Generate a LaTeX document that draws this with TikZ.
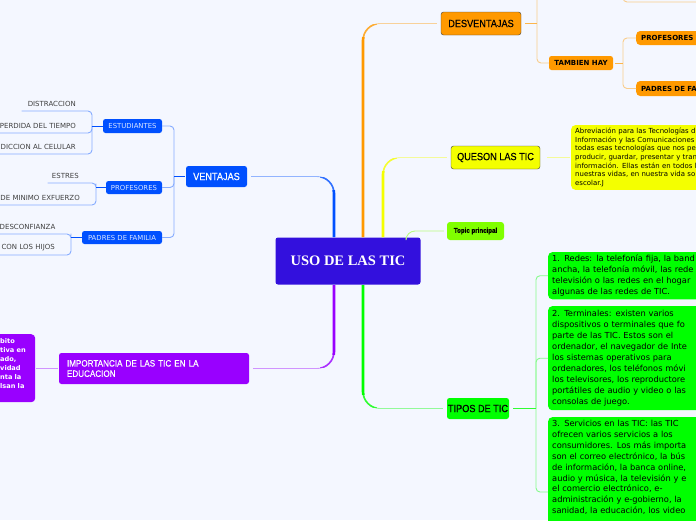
\documentclass[tikz,border=0pt]{standalone}
\usepackage{fontspec}
\setmainfont{DejaVu Sans}
\newfontfamily\headfont[FakeStretch=0.88,FakeBold=0.35]{Liberation Sans}
\newfontfamily\rootfont{Liberation Serif}
\usetikzlibrary{calc}
\definecolor{paper}{HTML}{F4F7FF}
\definecolor{rootblue}{HTML}{3310DD}
\definecolor{vblue}{HTML}{0050FF}
\definecolor{dorange}{HTML}{FF9900}
\definecolor{qyellow}{HTML}{F4FF00}
\definecolor{tgreen}{HTML}{00FF00}
\definecolor{tlime}{HTML}{80FF00}
\definecolor{ipurple}{HTML}{9900FF}
\tikzset{
	mapbox/.style={rounded corners=2.5pt, inner sep=0pt, align=center},
	headbox/.style={mapbox, font=\headfont\fontsize{10.4}{11}\selectfont},
	subbox/.style={mapbox, font=\fontsize{6.9}{8}\selectfont},
	notebox/.style={rounded corners=4pt, inner xsep=4pt, inner ysep=3pt, align=left, text=black},
	greenbox/.style={notebox, fill=tgreen, anchor=north west, text width=170pt, font=\fontsize{8.3}{10.9}\selectfont},
	orangebox/.style={notebox, fill=dorange, anchor=west, text width=80pt, inner xsep=5pt, font=\bfseries\fontsize{7}{8}\selectfont},
	leaf/.style={inner xsep=0pt, inner ysep=4pt, align=right, anchor=south east, text=black!75, font=\fontsize{7}{8}\selectfont},
	twig/.style={line width=0.9pt, rounded corners=4pt},
	mainlink/.style={line width=0.9pt, rounded corners=17pt, shorten <=4pt},
}
\begin{document}
\begin{tikzpicture}[x=1pt, y=-1pt]
	\clip (0,0) rectangle (696,520);
	\fill[paper] (0,0) rectangle (696,520);

	\node[mapbox, fill=rootblue, text=white, minimum width=145pt, minimum height=47pt, font=\rootfont\bfseries\fontsize{14.5}{17}\selectfont] (root) at (348,261) {USO DE LAS TIC};
	\coordinate (rootv) at (334,237);
	\coordinate (rooti) at (334,285);
	\coordinate (rootd) at (363,237);
	\coordinate (rootq) at (383,237);
	\coordinate (roott) at (363,285);
	\coordinate (rootp) at (406,237);

	\node[headbox, fill=vblue, text=white, minimum width=61pt, minimum height=21pt] (ventajas) at (216.5,176.5) {VENTAJAS};
	\node[subbox, fill=vblue, text=white!85!vblue, minimum width=59pt, minimum height=14pt] (estudiantes) at (132.5,126) {ESTUDIANTES};
	\node[subbox, fill=vblue, text=white!85!vblue, minimum width=56pt, minimum height=13pt] (profesores) at (134,187.5) {PROFESORES};
	\node[subbox, fill=vblue, text=white!85!vblue, minimum width=80pt, minimum height=13pt] (padres) at (122,237.5) {PADRES DE FAMILIA};

	\node[leaf, text width=54pt] (distraccion) at (76,111) {DISTRACCION};
	\node[leaf, text width=90pt] (perdida) at (76,133) {PERDIDA DEL TIEMPO};
	\node[leaf, text width=90pt] (adiccion) at (76,154) {DICCION AL CELULAR};
	\node[leaf, text width=31pt] (estres) at (79,183) {ESTRES};
	\node[leaf, text width=95pt] (minimo) at (80,205) {DE MINIMO EXFUERZO};
	\node[leaf, text width=70pt] (desconfianza) at (55.5,234) {DESCONFIANZA};
	\node[leaf, text width=70pt] (hijos) at (55,255) {CON LOS HIJOS};

	\node[headbox, fill=ipurple, text=white, minimum width=190pt, minimum height=31pt, align=left, text width=174pt, font=\headfont\fontsize{9.2}{10.3}\selectfont] (importancia) at (154,368.5) {IMPORTANCIA DE LAS TIC EN LA\\EDUCACION};
	\node[notebox, fill=ipurple, text=white, anchor=north west, inner xsep=0pt, minimum height=68pt, text width=50pt, font=\bfseries\fontsize{6.6}{9}\selectfont] (ambito) at (-15,334) {\hspace*{15pt}bito\\\hspace*{15pt}tiva en\\\hspace*{15pt}ado,\\\hspace*{15pt}vidad\\\hspace*{15pt}nta la\\\hspace*{15pt}lsan la\\~};

	\node[headbox, fill=dorange, draw=black!75, text=black, minimum width=80pt, minimum height=23pt] (desventajas) at (481,23.5) {DESVENTAJAS};
	\node[subbox, fill=dorange, text=black, minimum width=64pt, minimum height=14pt, font=\bfseries\fontsize{7}{8}\selectfont] (tambien) at (581,63) {TAMBIEN HAY};
	\node[orangebox, minimum height=14pt] (dprofesores) at (636,38) {PROFESORES};
	\node[orangebox, minimum height=15pt] (dpadres) at (636,88.5) {PADRES DE FA};
	\coordinate (topleft) at (537,-3);
	\coordinate (topedge) at (700,2);
	\coordinate (topturn) at (623,-3);

	\node[headbox, fill=qyellow, draw=black!75, text=black, minimum width=89pt, minimum height=23pt] (queson) at (495.5,157.5) {QUESON LAS TIC};
	\node[notebox, fill=qyellow, anchor=north west, minimum height=64pt, text width=140pt, font=\fontsize{6.95}{8.6}\selectfont] (abreviacion) at (571,125) {Abreviación para las Tecnologías d\\Información y las Comunicaciones\\todas esas tecnologías que nos pe\\producir, guardar, presentar y tran\\información. Ellas están en todos l\\nuestras vidas, en nuestra vida so\\escolar.J};

	\node[headbox, fill=tlime, text=black, rounded corners=3pt, minimum width=57pt, minimum height=18pt, font=\headfont\bfseries\fontsize{7}{8}\selectfont] (topic) at (475.5,231) {Topic principal};

	\node[headbox, fill=tgreen, text=black, minimum width=62pt, minimum height=21pt] (tipos) at (478,408.5) {TIPOS DE TIC};
	\node[greenbox, minimum height=46pt] (redes) at (548,252) {1. Redes: la telefonía fija, la band\\ancha, la telefonía móvil, las rede\\televisión o las redes en el hogar\\algunas de las redes de TIC.};
	\node[greenbox, minimum height=104pt] (terminales) at (548,306) {2. Terminales: existen varios\\dispositivos o terminales que fo\\parte de las TIC. Estos son el\\ordenador, el navegador de Inte\\los sistemas operativos para\\ordenadores, los teléfonos móvi\\los televisores, los reproductore\\portátiles de audio y video o las\\consolas de juego.};
	\node[greenbox] (servicios) at (548,417) {3. Servicios en las TIC: las TIC\\ofrecen varios servicios a los\\consumidores. Los más importa\\son el correo electrónico, la bús\\de información, la banca online,\\audio y música, la televisión y e\\el comercio electrónico, e-\\administración y e-gobierno, la\\sanidad, la educación, los video\\~};

	\foreach \nodefrom/\rootpt/\linkcol in {ventajas.east/rootv/vblue, importancia.east/rooti/ipurple, desventajas.west/rootd/dorange, queson.west/rootq/qyellow, tipos.west/roott/tgreen} {
		\draw[mainlink, \linkcol!40!paper] (\nodefrom) -| (\rootpt);
		\begin{scope}
			\clip ($(\rootpt)+(-14,0)$) rectangle ($(\nodefrom -| \rootpt)!1pt!(\rootpt)+(14,0)$);
			\draw[mainlink, \linkcol!80!paper, line width=1.6pt] (\nodefrom) -| (\rootpt);
		\end{scope}
		\begin{scope}
			\clip ($(\rootpt)+(-14,0)$) rectangle ($(\nodefrom -| \rootpt)!14pt!(\rootpt)+(14,0)$);
			\draw[mainlink, \linkcol, line width=2.6pt] (\nodefrom) -| (\rootpt);
		\end{scope}
	}
	\draw[line width=0.9pt, rounded corners=9pt, shorten <=3pt, tlime!50!paper] (topic.west) -| (rootp);

	\coordinate (estjoin) at (92,126);
	\coordinate (profjoin) at (96,187.5);
	\coordinate (padjoin) at (71,237.5);
	\coordinate (ventjoin) at (174,176.5);
	\draw[twig, vblue!45!paper] (distraccion.south west) -| (estjoin) |- (adiccion.south west);
	\draw[twig, vblue!45!paper] (perdida.south west) -| (estjoin);
	\draw[twig, vblue!45!paper] (estres.south west) -| (profjoin) |- (minimo.south west);
	\draw[twig, vblue!45!paper] (desconfianza.south west) -| (padjoin) |- (hijos.south west);
	\draw[twig, vblue!45!paper] (estudiantes.east) -| (ventjoin) |- (padres.east);
	\draw[twig, vblue!45!paper] (profesores.east) -| (ventjoin);
	\draw[vblue, line width=0.9pt] (estudiantes.west) -- (estjoin);
	\draw[vblue, line width=0.9pt] (profesores.west) -- (profjoin);
	\draw[vblue, line width=0.9pt] (padres.west) -- (padjoin);
	\draw[vblue, line width=0.9pt, shorten <=1pt] (ventajas.west) -- (ventjoin);

	\draw[line width=0.9pt, ipurple!40!paper, shorten <=1pt, shorten >=1pt] (importancia.west) -- (ambito.east |- importancia.west);

	\coordinate (tambjoin) at (537,23.5);
	\coordinate (dsubjoin) at (623,63);
	\draw[twig, dorange!45!paper] (topleft) |- (tambien.west);
	\draw[dorange!70!paper, line width=0.9pt, shorten <=4pt] (desventajas.east) -- (tambjoin);
	\draw[twig, dorange!45!paper] (dprofesores.west) -| (dsubjoin) |- (dpadres.west);
	\draw[dorange!70!paper, line width=0.9pt, shorten <=2pt] (tambien.east) -- (dsubjoin);
	\draw[twig, dorange!45!paper] (topturn) |- (topedge);

	\draw[line width=0.9pt, qyellow!40!paper, shorten <=7pt, shorten >=1pt] (queson.east) -- (abreviacion.west |- queson.east);

	\coordinate (tiposjoin) at (536,408.5);
	\draw[twig, tgreen!45!paper] (redes.west) -| (tiposjoin) |- (servicios.west |- 0,492);
	\draw[twig, tgreen!45!paper] (terminales.west) -| (tiposjoin);
	\draw[tgreen!80!paper, line width=0.9pt, shorten <=4pt] (tipos.east) -- (tiposjoin);
\end{tikzpicture}
\end{document}
